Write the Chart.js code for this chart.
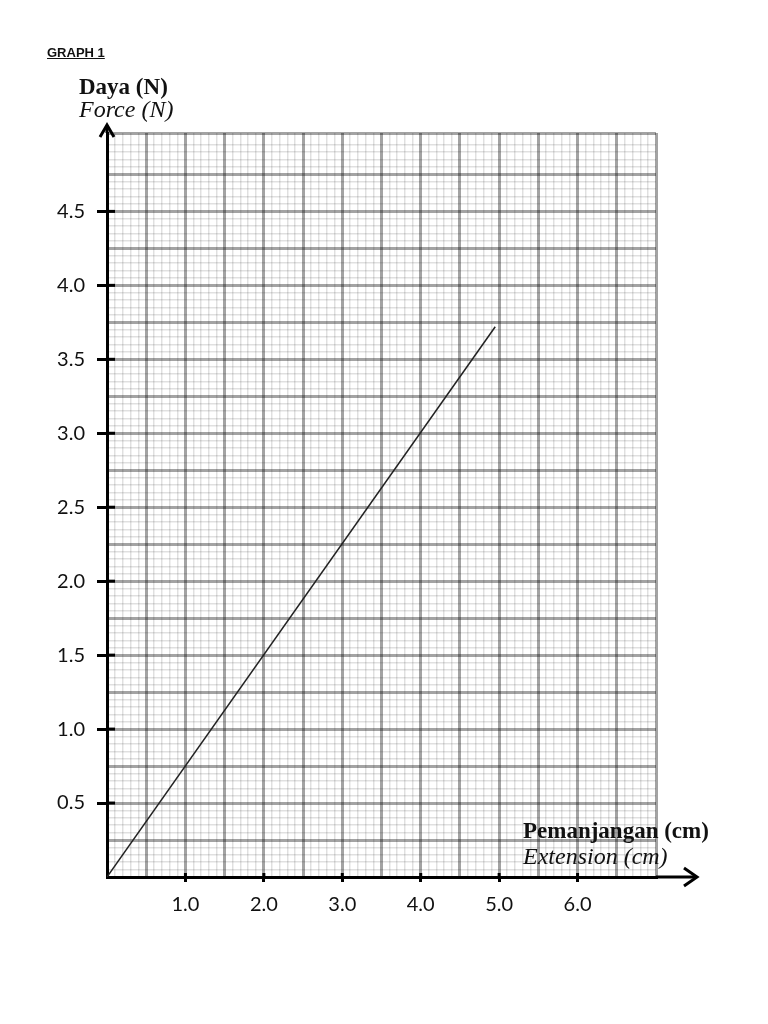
<!DOCTYPE html>
<html>
<head>
<meta charset="utf-8">
<script src="https://cdn.jsdelivr.net/npm/chart.js@4.4.0/dist/chart.umd.min.js"></script>
<style>
  body { margin: 0; background: #fff; }
  #wrap { position: absolute; left: 0; top: 0; width: 768px; height: 1024px; }
  .txt { position: absolute; white-space: nowrap; line-height: 1; color: #111; }
  .serif { font-family: "Liberation Serif", "DejaVu Serif", serif; }
</style>
</head>
<body>
<div id="wrap"><canvas id="myChart"></canvas></div>
<div class="txt" style="left:47px;top:45px;font:bold 13px 'Liberation Sans', Arial, sans-serif;text-decoration:underline;">GRAPH 1</div>
<div class="txt serif" style="left:79px;top:75px;font-size:23px;font-weight:bold;">Daya (N)</div>
<div class="txt serif" style="left:79px;top:97px;font-size:24px;font-style:italic;">Force (N)</div>
<div class="txt serif" style="left:523px;top:819px;font-size:23px;font-weight:bold;">Pemanjangan (cm)</div>
<div class="txt serif" style="left:523px;top:844px;font-size:24px;font-style:italic;">Extension (cm)</div>
<script>
// line drawn on the graph paper
var extension = [0, 4.95];
var force = [0, 3.72];

// labelled ticks
var xLabelled = [1, 2, 3, 4, 5, 6];
var yLabelled = [0.5, 1, 1.5, 2, 2.5, 3, 3.5, 4, 4.5];

var xMax = 7;
var yMax = 5.03;

function near(v, list) {
  return list.some(function (t) { return Math.abs(t - v) < 1e-6; });
}
function onStep(v, step) {
  var q = v / step;
  return Math.abs(q - Math.round(q)) < 1e-6;
}

var majorColor = 'rgba(0,0,0,0.36)';
var minorColor = 'rgba(0,0,0,0.12)';

var axisExtras = {
  id: 'axisExtras',
  afterDraw: function (chart) {
    var ctx = chart.ctx;
    var a = chart.chartArea;
    var xs = chart.scales.x, ys = chart.scales.y;
    ctx.save();
    ctx.strokeStyle = '#000';
    ctx.lineWidth = 3;
    ctx.lineCap = 'butt';
    // x axis extension + arrow
    ctx.beginPath();
    ctx.moveTo(a.right, a.bottom);
    ctx.lineTo(696, a.bottom);
    ctx.stroke();
    ctx.beginPath();
    ctx.moveTo(684, a.bottom - 9);
    ctx.lineTo(697, a.bottom);
    ctx.lineTo(684, a.bottom + 9);
    ctx.stroke();
    // y axis extension + arrow
    ctx.beginPath();
    ctx.moveTo(a.left, a.top);
    ctx.lineTo(a.left, 126);
    ctx.stroke();
    ctx.beginPath();
    ctx.moveTo(a.left - 7, 137);
    ctx.lineTo(a.left, 125);
    ctx.lineTo(a.left + 7, 137);
    ctx.stroke();
    // tick stubs inside the plot
    yLabelled.forEach(function (v) {
      var py = ys.getPixelForValue(v);
      ctx.beginPath();
      ctx.moveTo(a.left, py);
      ctx.lineTo(a.left + 8, py);
      ctx.stroke();
    });
    xLabelled.forEach(function (v) {
      var px = xs.getPixelForValue(v);
      ctx.beginPath();
      ctx.moveTo(px, a.bottom);
      ctx.lineTo(px, a.bottom - 4);
      ctx.stroke();
    });
    ctx.restore();
  }
};

function yMajor(v) { return onStep(v, 0.25) || Math.abs(v - yMax) < 1e-6; }

var ctx = document.getElementById('myChart');
new Chart(ctx, {
  type: 'scatter',
  data: {
    datasets: [{
      data: extension.map(function (x, i) { return { x: x, y: force[i] }; }),
      showLine: true,
      borderColor: '#222',
      borderWidth: 1.5,
      pointRadius: 0
    }]
  },
  options: {
    responsive: true,
    maintainAspectRatio: false,
    animation: false,
    layout: { padding: { left: 0, top: 133, right: 112, bottom: 87 } },
    plugins: { legend: { display: false }, tooltip: { enabled: false } },
    scales: {
      x: {
        type: 'linear',
        min: 0,
        max: xMax,
        afterFit: function (s) { s.height = 60; },
        ticks: {
          stepSize: 0.1,
          autoSkip: false,
          maxRotation: 0,
          padding: 11,
          color: '#111',
          font: { family: 'Lato', size: 20 },
          callback: function (v) { return near(v, xLabelled) ? v.toFixed(1) : ''; }
        },
        grid: {
          color: function (c) { return onStep(c.tick.value, 0.5) ? majorColor : minorColor; },
          lineWidth: function (c) { return onStep(c.tick.value, 0.5) ? 3 : 1.5; },
          tickColor: function (c) { return c.tick && near(c.tick.value, xLabelled) ? '#000' : 'transparent'; },
          tickLength: 5,
          tickWidth: 3
        },
        border: { display: true, color: '#000', width: 3 }
      },
      y: {
        type: 'linear',
        min: 0,
        max: yMax,
        afterFit: function (s) { s.width = 107; },
        ticks: {
          stepSize: 0.05,
          autoSkip: false,
          padding: 12,
          color: '#111',
          font: { family: 'Lato', size: 20 },
          callback: function (v) { return near(v, yLabelled) ? v.toFixed(1) : ''; }
        },
        grid: {
          color: function (c) { return yMajor(c.tick.value) ? majorColor : minorColor; },
          lineWidth: function (c) { return yMajor(c.tick.value) ? 3 : 1.5; },
          tickColor: function (c) { return c.tick && near(c.tick.value, yLabelled) ? '#000' : 'transparent'; },
          tickLength: 10,
          tickWidth: 3
        },
        border: { display: true, color: '#000', width: 3 }
      }
    }
  },
  plugins: [axisExtras]
});
</script>
</body>
</html>
